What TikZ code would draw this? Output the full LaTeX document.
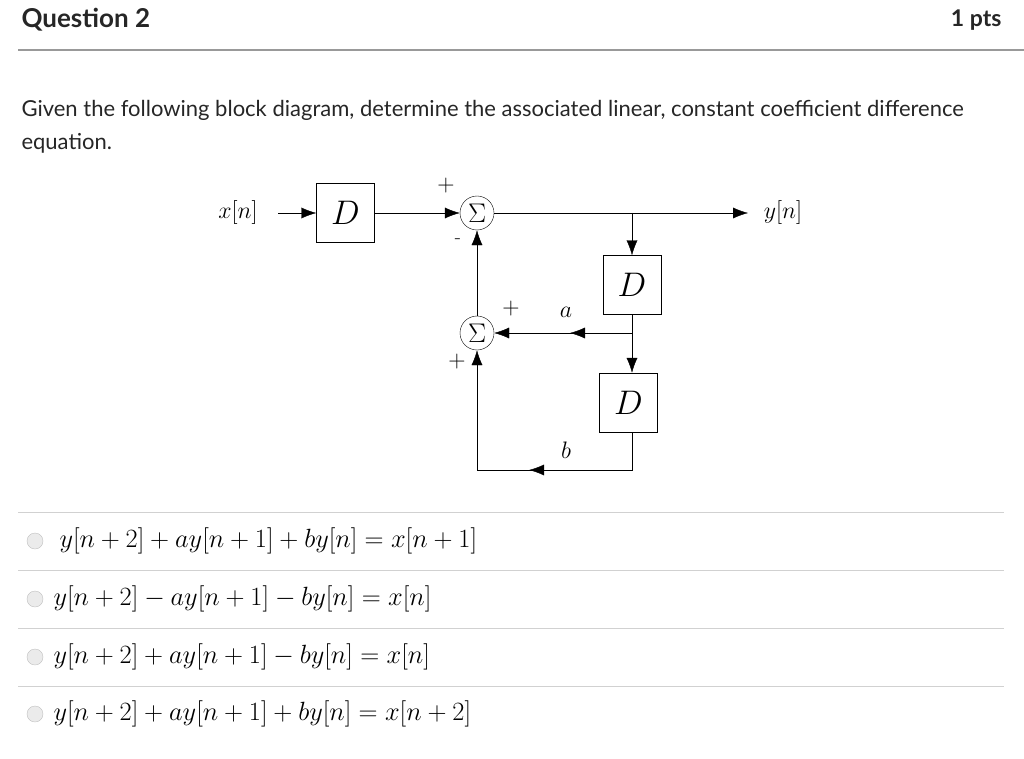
\documentclass[tikz,border=0pt]{standalone}
\usepackage{fontspec}
\newfontfamily\lato{Lato}
\usetikzlibrary{arrows.meta,decorations.markings}
\newcommand{\mybig}[2]{\scalebox{#1}{#2}}
\begin{document}
\begin{tikzpicture}[x=1pt,y=-1pt,
  blk/.style={draw,thin,minimum width=58pt,minimum height=59pt,inner sep=0pt,font=\fontsize{24}{24}\selectfont},
  sumn/.style={draw,thin,circle,minimum size=34pt,inner sep=0pt,font=\fontsize{20}{20}\selectfont},
  lab/.style={font=\fontsize{20}{20}\selectfont},
  arr/.style={-{Latex[length=15pt,width=11pt]}},
  midarr/.style={postaction={decorate},decoration={markings,mark=at position #1 with {\arrow{Latex[length=15pt,width=11pt]}}}},
  eq/.style={anchor=west,font=\fontsize{24}{24}\selectfont},
  radio/.style={draw=black!25,fill=black!8,circle,minimum size=16pt,inner sep=0pt}]
\useasboundingbox (0,0) rectangle (1024,759);
\node[anchor=west,font=\lato\bfseries\fontsize{26}{26}\selectfont,text=black!85] (title) at (18,20) {Question 2};
\node[anchor=east,font=\lato\bfseries\fontsize{23}{23}\selectfont,text=black!85] (pts) at (1005,20) {1 pts};
\draw[black!40,line width=1.5pt] (18,50) -- (1024,50);
\node[anchor=west,font=\lato\fontsize{22}{22}\selectfont,text=black!85] (q1) at (18,110) {Given the following block diagram, determine the associated linear, constant coefficient difference};
\node[anchor=west,font=\lato\fontsize{22}{22}\selectfont,text=black!85] (q2) at (18,143) {equation.};
% diagram
\node[lab] (x) at (238,213) {\mybig{1.15}{$x[n]$}};
\node[blk] (d1) at (345.5,213) {\mybig{1.37}{$D$}};
\node[sumn] (s1) at (477,213) {\mybig{1.3}{$\Sigma$}};
\node[lab] (y) at (783,213) {\mybig{1.15}{$y[n]$}};
\node[blk] (d2) at (632,285) {\mybig{1.37}{$D$}};
\node[blk] (d3) at (628.5,402.5) {\mybig{1.37}{$D$}};
\node[sumn] (s2) at (477,333) {\mybig{1.3}{$\Sigma$}};
\coordinate (xs) at (278,213);
\coordinate (yend) at (748,213);
\coordinate (br1) at (632,213);
\coordinate (br2) at (632,333);
\coordinate (c1) at (632,470);
\coordinate (c2) at (477,470);
\draw[arr] (xs) -- (d1.west);
\draw[arr] (d1.east) -- (s1.west);
\draw[arr] (s1.east) -- (yend);
\draw[arr] (br1) -- (d2.north);
\draw[arr] (d2.south) -- (d3.north-|d2.south);
\draw[arr,midarr=0.45] (br2) -- (s2.east);
\draw[arr,midarr=0.45] (d3.south-|c1) -- (c1) -- (c2) -- (s2.south);
\draw[arr] (s2.north) -- (s1.south);
\node[lab] (p1) at (446,186) {\mybig{1.15}{$+$}};
\node[lab] (m1) at (458,241) {-};
\node[lab] (p2) at (511,309) {\mybig{1.15}{$+$}};
\node[lab] (p3) at (457,362) {\mybig{1.15}{$+$}};
\node[lab] (a) at (566,312) {\mybig{1.15}{$a$}};
\node[lab] (b) at (566,450) {\mybig{1.15}{$b$}};
% options
\foreach \yy in {512,570,628,686} \draw[black!18,line width=1pt] (18,\yy) -- (1004,\yy);
\node[radio] (r1) at (35,541) {};
\node[radio] (r2) at (35,599) {};
\node[radio] (r3) at (35,657) {};
\node[radio] (r4) at (35,714) {};
\node[eq] (e1) at (56,541) {\mybig{1.06}{$y[n+2]+ay[n+1]+by[n]=x[n+1]$}};
\node[eq] (e2) at (50,599) {\mybig{1.06}{$y[n+2]-ay[n+1]-by[n]=x[n]$}};
\node[eq] (e3) at (50,657) {\mybig{1.06}{$y[n+2]+ay[n+1]-by[n]=x[n]$}};
\node[eq] (e4) at (50,714) {\mybig{1.06}{$y[n+2]+ay[n+1]+by[n]=x[n+2]$}};
\end{tikzpicture}
\end{document}
